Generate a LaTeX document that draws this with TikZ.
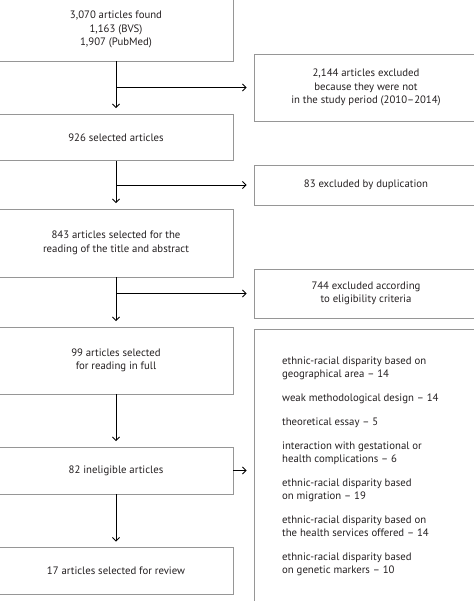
\documentclass[tikz,border=0pt]{standalone}
\usepackage{fontspec}
\setmainfont{PT Sans}
\usetikzlibrary{arrows.meta}
\definecolor{boxgray}{RGB}{150,150,150}
\definecolor{txt}{RGB}{35,31,32}
\begin{document}
\begin{tikzpicture}[x=1bp,y=-1bp,
  box/.style={draw=boxgray, line width=0.9bp, rectangle, inner sep=0pt, align=center, text=txt, font=\fontsize{10.8}{13.5}\selectfont},
  lbox/.style={box, minimum width=234bp},
  rbox/.style={box, minimum width=224bp},
  arr/.style={draw=black, line width=0.8bp, -{Straight Barb[length=3.5bp,width=7bp]}, shorten >=5.5bp},
  arrh/.style={arr, shorten >=7bp}]
\useasboundingbox (0,0) rectangle (474,601);
% left column
\node[lbox, minimum height=63bp] (b1) at (116,29.5) {3,070 articles found\\1,163 (BVS)\\1,907 (PubMed)};
\node[lbox, minimum height=46.7bp] (b2) at (116,137.35) {926 selected articles};
\node[lbox, minimum height=68bp] (b3) at (116,243) {843 articles selected for the\\reading of the title and abstract};
\node[lbox, minimum height=67bp] (b4) at (116,360.5) {99 articles selected\\for reading in full};
\node[lbox, minimum height=47bp] (b5) at (116,470.5) {82 ineligible articles};
\node[lbox, minimum height=47bp] (b6) at (116,571) {17 articles selected for review};
% right column
\node[rbox, minimum height=67bp] (r1) at (366,87.5) {2,144 articles excluded\\because they were not\\in the study period (2010–2014)};
\node[rbox, minimum height=40bp] (r2) at (366,185) {83 excluded by duplication};
\node[rbox, minimum height=49bp] (r3) at (366,293.5) {744 excluded according\\to eligibility criteria};
\node[rbox, minimum height=280bp] (r4) at (366,469) {};
\node[anchor=north west, inner sep=0pt, align=left, text=txt, font=\fontsize{10.8}{12.8}\selectfont] (r4t) at (282,356.5)
 {ethnic-racial disparity based on\\geographical area – 14\\[11.4bp]
  weak methodological design – 14\\[11.4bp]
  theoretical essay – 5\\[11.4bp]
  interaction with gestational or\\health complications – 6\\[11.4bp]
  ethnic-racial disparity based\\on migration – 19\\[11.4bp]
  ethnic-racial disparity based on\\the health services offered – 14\\[11.4bp]
  ethnic-racial disparity based\\on genetic markers – 10};
% connectors
\draw[arr] (b1) -- (b2);
\draw[arr] (b2) -- (b3);
\draw[arr] (b3) -- (b4);
\draw[arr] (b4) -- (b5);
\draw[arr] (b5) -- (b6);
\draw[arrh] (b1.south |- r1.west) -- (r1.west);
\draw[arrh] (b2.south |- r2.west) -- (r2.west);
\draw[arrh] (b3.south |- r3.west) -- (r3.west);
\draw[arrh] (b5.east) -- (r4.west |- b5.east);
\end{tikzpicture}
\end{document}
